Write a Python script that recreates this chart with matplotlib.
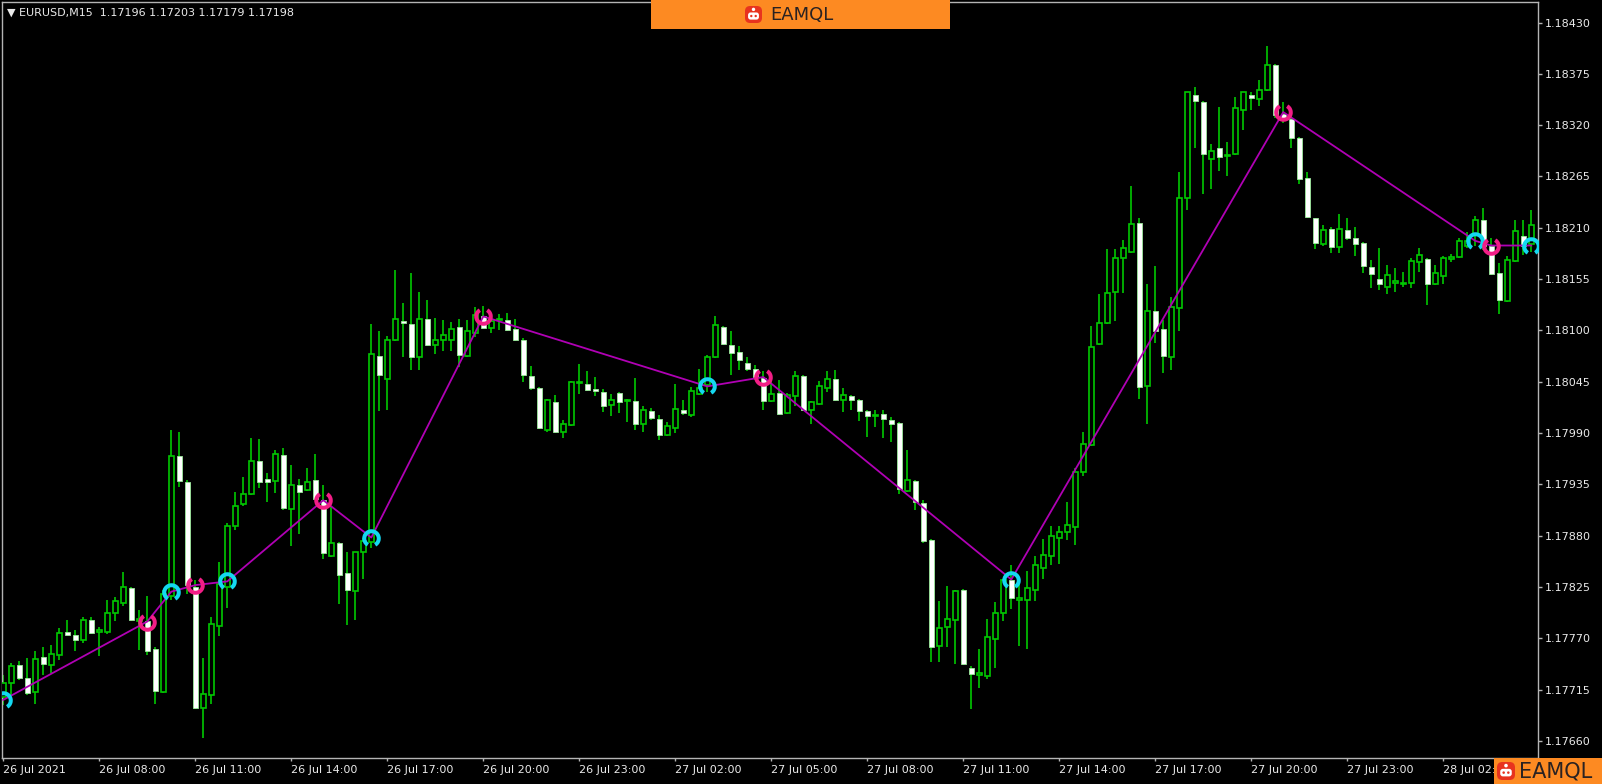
import matplotlib
matplotlib.use("Agg")
import matplotlib.pyplot as plt
import numpy as np
from matplotlib.path import Path
from matplotlib.patches import Rectangle, FancyBboxPatch, Circle

# ---------------- data ----------------
title_text = "\u25BC EURUSD,M15  1.17196 1.17203 1.17179 1.17198"

opens = [
    1.17707, 1.17722, 1.17741, 1.17727, 1.17712, 1.17750, 1.17741, 1.17752, 1.17777, 1.17774, 1.17768, 1.17790,
    1.17777, 1.17777, 1.17797, 1.17808, 1.17824, 1.17789, 1.17789, 1.17758, 1.17712, 1.17815, 1.17965, 1.17937,
    1.17825, 1.17695, 1.17709, 1.17783, 1.17825, 1.17890, 1.17914, 1.17925, 1.17960, 1.17941, 1.17939, 1.17966,
    1.17909, 1.17934, 1.17929, 1.17940, 1.17918, 1.17858, 1.17872, 1.17840, 1.17821, 1.17863, 1.17873, 1.18073,
    1.18048, 1.18090, 1.18110, 1.18107, 1.18071, 1.18112, 1.18084, 1.18090, 1.18090, 1.18104, 1.18073, 1.18097,
    1.18115, 1.18103, 1.18111, 1.18111, 1.18101, 1.18090, 1.18051, 1.18038, 1.17993, 1.18023, 1.17991, 1.17999,
    1.18044, 1.18043, 1.18037, 1.18034, 1.18020, 1.18033, 1.18024, 1.18024, 1.18000, 1.18014, 1.18005, 1.17988,
    1.17995, 1.18015, 1.18009, 1.18032, 1.18041, 1.18071, 1.18104, 1.18084, 1.18077, 1.18065, 1.18059, 1.18049,
    1.18024, 1.18033, 1.18011, 1.18030, 1.18051, 1.18015, 1.18021, 1.18038, 1.18048, 1.18025, 1.18030, 1.18025,
    1.18014, 1.18008, 1.18010, 1.18004, 1.18001, 1.17928, 1.17939, 1.17915, 1.17875, 1.17762, 1.17782, 1.17790,
    1.17822, 1.17738, 1.17731, 1.17730, 1.17769, 1.17797, 1.17833, 1.17811, 1.17811, 1.17822, 1.17845, 1.17858,
    1.17878, 1.17884, 1.17889, 1.17948, 1.17977, 1.18085, 1.18108, 1.18141, 1.18178, 1.18184, 1.18215, 1.18040,
    1.18121, 1.18102, 1.18071, 1.18124, 1.18242, 1.18352, 1.18345, 1.18284, 1.18295, 1.18287, 1.18289, 1.18336,
    1.18352, 1.18348, 1.18358, 1.18384, 1.18332, 1.18327, 1.18306, 1.18263, 1.18220, 1.18193, 1.18209, 1.18189,
    1.18208, 1.18199, 1.18194, 1.18168, 1.18155, 1.18146, 1.18151, 1.18150, 1.18151, 1.18173, 1.18177, 1.18150,
    1.18158, 1.18177, 1.18179, 1.18190, 1.18202, 1.18218, 1.18190, 1.18161, 1.18132, 1.18174, 1.18201, 1.18193,
]
highs = [
    1.17731, 1.17743, 1.17746, 1.17749, 1.17756, 1.17761, 1.17763, 1.17781, 1.17790, 1.17779, 1.17793, 1.17793,
    1.17782, 1.17811, 1.17814, 1.17841, 1.17825, 1.17800, 1.17815, 1.17761, 1.17822, 1.17993, 1.17991, 1.17940,
    1.17833, 1.17749, 1.17793, 1.17852, 1.17894, 1.17927, 1.17943, 1.17985, 1.17984, 1.17947, 1.17972, 1.17974,
    1.17956, 1.17941, 1.17953, 1.17967, 1.17934, 1.17912, 1.17873, 1.17863, 1.17863, 1.17878, 1.18107, 1.18099,
    1.18094, 1.18165, 1.18129, 1.18161, 1.18141, 1.18133, 1.18113, 1.18111, 1.18109, 1.18112, 1.18111, 1.18125,
    1.18126, 1.18114, 1.18118, 1.18119, 1.18112, 1.18092, 1.18062, 1.18039, 1.18026, 1.18031, 1.18004, 1.18046,
    1.18064, 1.18057, 1.18050, 1.18037, 1.18032, 1.18034, 1.18027, 1.18049, 1.18019, 1.18017, 1.18009, 1.18002,
    1.18043, 1.18025, 1.18039, 1.18059, 1.18074, 1.18115, 1.18105, 1.18099, 1.18083, 1.18071, 1.18063, 1.18056,
    1.18048, 1.18047, 1.18033, 1.18056, 1.18052, 1.18024, 1.18046, 1.18057, 1.18058, 1.18038, 1.18031, 1.18026,
    1.18015, 1.18015, 1.18015, 1.18007, 1.18002, 1.17972, 1.17940, 1.17918, 1.17876, 1.17810, 1.17826, 1.17822,
    1.17823, 1.17740, 1.17758, 1.17791, 1.17809, 1.17834, 1.17849, 1.17835, 1.17842, 1.17858, 1.17876, 1.17890,
    1.17890, 1.17916, 1.17953, 1.17991, 1.18105, 1.18139, 1.18187, 1.18187, 1.18197, 1.18255, 1.18221, 1.18150,
    1.18169, 1.18111, 1.18136, 1.18270, 1.18356, 1.18361, 1.18346, 1.18300, 1.18339, 1.18302, 1.18350, 1.18356,
    1.18356, 1.18368, 1.18405, 1.18386, 1.18345, 1.18329, 1.18307, 1.18270, 1.18221, 1.18213, 1.18211, 1.18225,
    1.18221, 1.18211, 1.18195, 1.18175, 1.18188, 1.18170, 1.18167, 1.18163, 1.18178, 1.18188, 1.18178, 1.18170,
    1.18180, 1.18182, 1.18199, 1.18205, 1.18223, 1.18231, 1.18199, 1.18172, 1.18180, 1.18218, 1.18218, 1.18229,
]
lows = [
    1.17699, 1.17709, 1.17725, 1.17709, 1.17700, 1.17731, 1.17733, 1.17747, 1.17773, 1.17756, 1.17765, 1.17775,
    1.17751, 1.17775, 1.17789, 1.17805, 1.17789, 1.17757, 1.17752, 1.17700, 1.17711, 1.17811, 1.17932, 1.17818,
    1.17694, 1.17663, 1.17700, 1.17772, 1.17803, 1.17886, 1.17912, 1.17924, 1.17931, 1.17916, 1.17926, 1.17908,
    1.17869, 1.17882, 1.17928, 1.17918, 1.17855, 1.17857, 1.17807, 1.17784, 1.17790, 1.17834, 1.17867, 1.18014,
    1.18015, 1.18089, 1.18071, 1.18058, 1.18058, 1.18083, 1.18075, 1.18078, 1.18078, 1.18061, 1.18072, 1.18093,
    1.18102, 1.18097, 1.18100, 1.18099, 1.18089, 1.18045, 1.18036, 1.17994, 1.17991, 1.17990, 1.17985, 1.17998,
    1.18032, 1.18035, 1.18030, 1.18013, 1.18008, 1.18011, 1.18002, 1.17993, 1.17991, 1.18004, 1.17983, 1.17987,
    1.17990, 1.18009, 1.18007, 1.18031, 1.18034, 1.18070, 1.18084, 1.18052, 1.18058, 1.18056, 1.18047, 1.18015,
    1.18023, 1.18009, 1.18010, 1.18019, 1.18014, 1.18000, 1.18020, 1.18034, 1.18024, 1.18013, 1.18015, 1.18003,
    1.17986, 1.17997, 1.17985, 1.17980, 1.17925, 1.17927, 1.17907, 1.17872, 1.17745, 1.17745, 1.17761, 1.17742,
    1.17741, 1.17694, 1.17717, 1.17726, 1.17738, 1.17789, 1.17801, 1.17762, 1.17758, 1.17810, 1.17834, 1.17849,
    1.17850, 1.17875, 1.17870, 1.17944, 1.17976, 1.18084, 1.18107, 1.18110, 1.18140, 1.18183, 1.18027, 1.18000,
    1.18087, 1.18054, 1.18058, 1.18099, 1.18229, 1.18295, 1.18246, 1.18252, 1.18271, 1.18265, 1.18288, 1.18315,
    1.18336, 1.18340, 1.18357, 1.18328, 1.18322, 1.18295, 1.18257, 1.18221, 1.18187, 1.18191, 1.18183, 1.18183,
    1.18197, 1.18180, 1.18161, 1.18145, 1.18143, 1.18139, 1.18141, 1.18146, 1.18145, 1.18163, 1.18127, 1.18149,
    1.18150, 1.18173, 1.18178, 1.18188, 1.18191, 1.18186, 1.18159, 1.18118, 1.18130, 1.18173, 1.18181, 1.18184,
]
closes = [
    1.17722, 1.17740, 1.17727, 1.17711, 1.17748, 1.17742, 1.17753, 1.17776, 1.17774, 1.17768, 1.17790, 1.17776,
    1.17779, 1.17797, 1.17810, 1.17825, 1.17790, 1.17791, 1.17756, 1.17713, 1.17818, 1.17965, 1.17939, 1.17827,
    1.17695, 1.17710, 1.17785, 1.17828, 1.17890, 1.17912, 1.17925, 1.17960, 1.17938, 1.17938, 1.17967, 1.17910,
    1.17934, 1.17927, 1.17937, 1.17919, 1.17861, 1.17872, 1.17838, 1.17822, 1.17862, 1.17874, 1.18075, 1.18052,
    1.18090, 1.18112, 1.18108, 1.18071, 1.18112, 1.18084, 1.18090, 1.18095, 1.18102, 1.18074, 1.18099, 1.18117,
    1.18103, 1.18110, 1.18112, 1.18100, 1.18090, 1.18052, 1.18038, 1.17995, 1.18025, 1.17991, 1.18000, 1.18045,
    1.18045, 1.18036, 1.18035, 1.18019, 1.18025, 1.18023, 1.18025, 1.18000, 1.18015, 1.18006, 1.17988, 1.17998,
    1.18016, 1.18011, 1.18035, 1.18038, 1.18071, 1.18106, 1.18085, 1.18076, 1.18068, 1.18059, 1.18050, 1.18024,
    1.18032, 1.18010, 1.18031, 1.18051, 1.18015, 1.18023, 1.18040, 1.18048, 1.18025, 1.18031, 1.18025, 1.18014,
    1.18008, 1.18009, 1.18005, 1.18000, 1.17930, 1.17940, 1.17916, 1.17874, 1.17761, 1.17781, 1.17791, 1.17821,
    1.17742, 1.17732, 1.17733, 1.17771, 1.17797, 1.17833, 1.17813, 1.17813, 1.17824, 1.17849, 1.17859, 1.17880,
    1.17884, 1.17891, 1.17948, 1.17978, 1.18082, 1.18108, 1.18140, 1.18178, 1.18188, 1.18214, 1.18039, 1.18121,
    1.18099, 1.18073, 1.18125, 1.18242, 1.18355, 1.18346, 1.18289, 1.18292, 1.18286, 1.18288, 1.18338, 1.18355,
    1.18349, 1.18358, 1.18384, 1.18331, 1.18328, 1.18306, 1.18262, 1.18222, 1.18194, 1.18208, 1.18189, 1.18209,
    1.18199, 1.18193, 1.18169, 1.18160, 1.18150, 1.18159, 1.18153, 1.18151, 1.18174, 1.18181, 1.18150, 1.18161,
    1.18178, 1.18179, 1.18196, 1.18196, 1.18218, 1.18191, 1.18160, 1.18133, 1.18175, 1.18207, 1.18191, 1.18213,
]

# zigzag swing points (bar index, price, kind)
zz_idx = [0, 18, 21, 24, 28, 40, 46, 60, 88, 95, 126, 160, 184, 186, 191]
zz_price = [1.17704, 1.17788, 1.17820, 1.17827, 1.17831, 1.17918, 1.17878, 1.18115,
            1.18040, 1.18050, 1.17833, 1.18334, 1.18196, 1.18191, 1.18191]
zz_kind = ["low", "high", "low", "high", "low", "high", "low", "high",
           "low", "high", "low", "high", "low", "high", "low"]

time_tick_bars = [0, 12, 24, 36, 48, 60, 72, 84, 96, 108, 120, 132, 144, 156, 168, 180]
time_tick_labels = ["26 Jul 2021", "26 Jul 08:00", "26 Jul 11:00", "26 Jul 14:00", "26 Jul 17:00",
                    "26 Jul 20:00", "26 Jul 23:00", "27 Jul 02:00", "27 Jul 05:00", "27 Jul 08:00",
                    "27 Jul 11:00", "27 Jul 14:00", "27 Jul 17:00", "27 Jul 20:00", "27 Jul 23:00",
                    "28 Jul 02:00"]
price_ticks = [1.17660, 1.17715, 1.17770, 1.17825, 1.17880, 1.17935, 1.17990, 1.18045,
               1.18100, 1.18155, 1.18210, 1.18265, 1.18320, 1.18375, 1.18430]

# ---------------- style ----------------
GREEN = "#00C800"
PURPLE = "#B000B4"
CYAN = "#14D8F0"
PINK = "#F21E86"
GRID_FG = "#B4B4B4"
TXT = "#EAEAEA"
ORANGE = "#FD8A22"

W, H = 1602, 784
fig = plt.figure(figsize=(W / 100, H / 100), dpi=100, facecolor="black")

L_px, R_px, T_px, B_px = 2, 1538, 2, 758
ax = fig.add_axes([L_px / W, 1 - B_px / H, (R_px - L_px) / W, (B_px - T_px) / H])
ax.set_facecolor("black")
ax.set_xlim(-0.1625, 191.84)
ax.set_ylim(1.176417, 1.184520)

o = np.array(opens); h = np.array(highs); l = np.array(lows); c = np.array(closes)
x = np.arange(len(o))
bull = c >= o

ax.vlines(x, l, h, color=GREEN, lw=1.2, zorder=2)
ax.bar(x[bull], (c - o)[bull], bottom=o[bull], width=0.6, color="black",
       edgecolor=GREEN, linewidth=1.2, zorder=3)
ax.bar(x[~bull], (o - c)[~bull], bottom=c[~bull], width=0.6, color="white",
       edgecolor="#9CEB9C", linewidth=0.6, zorder=3)

# zigzag line
ax.plot(zz_idx, zz_price, color=PURPLE, lw=1.3, zorder=4)

# swing markers: open rings
ring_low = Path.arc(-60, 240)     # gap at bottom
ring_high = Path.arc(120, 420)    # gap at top
for xi, pi, kd in zip(zz_idx, zz_price, zz_kind):
    if kd == "low":
        ax.plot([xi], [pi], marker=ring_low, markersize=10.5, markeredgewidth=2.9,
                markeredgecolor=CYAN, markerfacecolor="none", linestyle="none", zorder=5)
    else:
        ax.plot([xi], [pi], marker=ring_high, markersize=10.5, markeredgewidth=2.9,
                markeredgecolor=PINK, markerfacecolor="none", linestyle="none", zorder=5)

# axes decoration
for s in ax.spines.values():
    s.set_color(GRID_FG)
    s.set_linewidth(1.0)
ax.yaxis.tick_right()
ax.set_yticks(price_ticks)
ax.set_yticklabels([f"{p:.5f}" for p in price_ticks])
ax.set_xticks(time_tick_bars)
ax.set_xticklabels(time_tick_labels)
ax.tick_params(axis="y", colors=GRID_FG, labelcolor=TXT, length=3, width=1, pad=2, labelsize=8)
ax.tick_params(axis="x", colors=GRID_FG, labelcolor=TXT, length=2.5, width=1, pad=2.5, labelsize=8)
for lbl in ax.get_xticklabels():
    lbl.set_horizontalalignment("left")

# ---------------- overlay (header text, logos) ----------------
ov = fig.add_axes([0, 0, 1, 1], facecolor="none")
ov.set_xlim(0, W)
ov.set_ylim(H, 0)
ov.axis("off")

ov.text(7, 13, title_text, color=TXT, fontsize=8, ha="left", va="center")


def logo(x0, y0, w, h, icon_x, icon_y, icon_s, text_x, fs):
    ov.add_patch(Rectangle((x0, y0), w, h, facecolor=ORANGE, edgecolor="none", zorder=10))
    ov.add_patch(FancyBboxPatch((icon_x, icon_y), icon_s, icon_s,
                                boxstyle=f"round,pad=0,rounding_size={icon_s*0.3}",
                                facecolor="#E8331E", edgecolor="none", zorder=11))
    ov.add_patch(FancyBboxPatch((icon_x + icon_s * 0.18, icon_y + icon_s * 0.38),
                                icon_s * 0.64, icon_s * 0.42,
                                boxstyle=f"round,pad=0,rounding_size={icon_s*0.15}",
                                facecolor="white", edgecolor="none", zorder=12))
    ov.add_patch(Circle((icon_x + icon_s * 0.5, icon_y + icon_s * 0.2), icon_s * 0.1,
                        facecolor="white", edgecolor="none", zorder=12))
    for ex in (0.37, 0.63):
        ov.add_patch(Circle((icon_x + icon_s * ex, icon_y + icon_s * 0.59), icon_s * 0.07,
                            facecolor="#E8331E", edgecolor="none", zorder=13))
    ov.text(text_x, y0 + h / 2 + 0.5, "EAMQL", color="#2A2222", fontsize=fs,
            ha="left", va="center", zorder=12, family="DejaVu Sans")


logo(651, 0, 299, 29, 745, 6, 17, 770, 13)
logo(1494, 758, 108, 26, 1497, 762, 18, 1519, 15)

fig.savefig("out.png", dpi=100, facecolor="black")
